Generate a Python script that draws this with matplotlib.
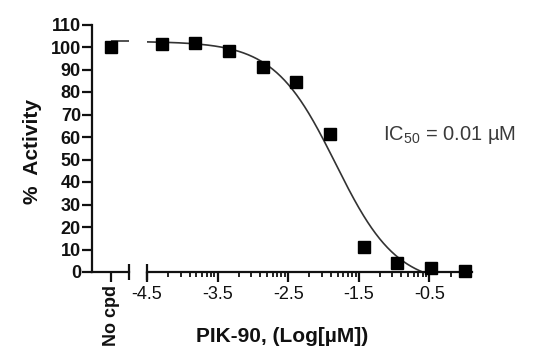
import numpy as np
import matplotlib
matplotlib.use("Agg")
import matplotlib.pyplot as plt

# ---- data ----
log_conc = [-4.294, -3.817, -3.340, -2.863, -2.386, -1.908, -1.431, -0.954, -0.477, 0.0]
activity = [101.2, 101.8, 98.2, 91.3, 84.4, 61.3, 11.1, 3.9, 1.8, 0.5]
no_cpd_activity = [100.0]
no_cpd_label = ["No cpd"]
# 4-parameter logistic fit drawn in the reference
fit_top = 102.5
fit_bottom = -6.0
fit_log_ic50 = -1.83
fit_hill = 1.0
y_ticks = list(range(0, 111, 10))
x_major = [-4.5, -3.5, -2.5, -1.5, -0.5]
x_labels = ["-4.5", "-3.5", "-2.5", "-1.5", "-0.5"]
ic50_text = "IC$_{50}$ = 0.01 µM"

plt.rcParams['font.family'] = ['Liberation Sans', 'DejaVu Sans']
plt.rcParams['mathtext.fontset'] = 'custom'
plt.rcParams['mathtext.rm'] = 'Liberation Sans'

W, H = 545, 363
fig = plt.figure(figsize=(W / 100, H / 100), dpi=100)

y0_px, y110_px = 272.0, 24.5
bottom = (H - y0_px) / H
height = (y0_px - y110_px) / H

# left (No cpd) segment
axL = fig.add_axes([92 / W, bottom, (129 - 92) / W, height])
# main segment
xlim_main = (-4.5, 0.1)
px_per_unit = 70.6
axR = fig.add_axes([147 / W, bottom, (xlim_main[1] - xlim_main[0]) * px_per_unit / W, height])

spine_lw = 1.6
ink = "#111111"
for ax in (axL, axR):
    ax.set_ylim(0, 110)
    for s in ("top", "right"):
        ax.spines[s].set_visible(False)
    ax.spines["bottom"].set_linewidth(spine_lw)
    ax.spines["left"].set_linewidth(spine_lw)
    ax.spines["bottom"].set_color(ink)
    ax.spines["left"].set_color(ink)
    ax.patch.set_alpha(0)

# Left axis
axL.set_xlim(0, 1)
axL.set_yticks(y_ticks)
axL.set_yticklabels([str(v) for v in y_ticks], fontsize=13, fontweight="bold", color=ink)
axL.tick_params(axis="y", length=7, width=spine_lw, pad=1, color=ink)
xL = 0.514
axL.set_xticks([xL])
axL.set_xticklabels(no_cpd_label, rotation=90, fontsize=13, fontweight="bold", color=ink)
axL.tick_params(axis="x", length=7, width=spine_lw, pad=2, color=ink)
axL.plot([xL, 1.0], [fit_top, fit_top], color="#333333", lw=1.2, solid_capstyle="butt", zorder=2)
axL.plot([xL] * len(no_cpd_activity), no_cpd_activity, "s", color="black", ms=8.5, zorder=3, clip_on=False)
axL.plot([1.0], [0], marker="|", ms=12, mew=spine_lw, color=ink, transform=axL.transAxes, clip_on=False)

# Right axis
axR.spines["left"].set_visible(False)
axR.set_xlim(*xlim_main)
axR.set_yticks([])
axR.set_xticks(x_major)
axR.set_xticklabels(x_labels, fontsize=13, color=ink)
minor = []
for m in x_major:
    for k in range(2, 10):
        v = m + np.log10(k)
        if v <= xlim_main[1]:
            minor.append(v)
axR.set_xticks(minor, minor=True)
axR.tick_params(axis="x", which="major", length=7, width=spine_lw, pad=3, color=ink)
axR.tick_params(axis="x", which="minor", length=3.5, width=1.3, color=ink)
axR.plot([0.0], [0], marker="|", ms=12, mew=spine_lw, color=ink, transform=axR.transAxes, clip_on=False)

xc = np.linspace(-4.5, 0.0, 400)
yc = fit_bottom + (fit_top - fit_bottom) / (1 + 10 ** ((xc - fit_log_ic50) * fit_hill))
axR.plot(xc, yc, color="#333333", lw=1.2, zorder=2)
axR.plot(log_conc, activity, "s", color="black", ms=8.5, zorder=3, clip_on=False)

axR.text(383, 363 - 135, ic50_text, transform=None, fontsize=14.5, color="#3a3a3a",
         ha="left", va="center")

fig.text(282 / W, 1 - 337 / H, "PIK-90, (Log[µM])", fontsize=15, fontweight="bold",
         ha="center", va="center", color=ink)
fig.text(32 / W, 1 - 152 / H, "%  Activity", fontsize=15, fontweight="bold",
         rotation=90, ha="center", va="center", color=ink)

fig.savefig("out.png", dpi=100)
